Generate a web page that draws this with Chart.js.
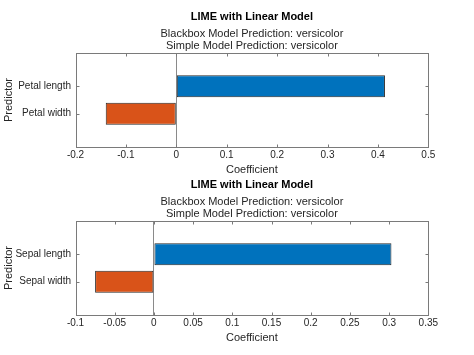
<!DOCTYPE html>
<html><head><meta charset="utf-8">
<script src="https://cdn.jsdelivr.net/npm/chart.js@4"></script>
<style>
html,body{margin:0;padding:0;background:#fff;width:474px;height:355px;overflow:hidden;}
.wrap{position:absolute;left:0;width:474px;height:180px;}
#w1{top:0;}
#w2{top:168px;}
</style></head><body>
<div class="wrap" id="w1"><canvas id="c1" width="474" height="180"></canvas></div>
<div class="wrap" id="w2"><canvas id="c2" width="474" height="180"></canvas></div>
<script>
// ---- data ----
const titleText = 'LIME with Linear Model';
const subtitleLines = ['Blackbox Model Prediction: versicolor', 'Simple Model Prediction: versicolor'];
const topPredictors = ['Petal length', 'Petal width'];
const topCoefficients = [0.414, -0.14];
const bottomPredictors = ['Sepal length', 'Sepal width'];
const bottomCoefficients = [0.303, -0.075];
const predictorPositions = [1, 2];
const topXTicks = [-0.2, -0.1, 0, 0.1, 0.2, 0.3, 0.4, 0.5];
const bottomXTicks = [-0.1, -0.05, 0, 0.05, 0.1, 0.15, 0.2, 0.25, 0.3, 0.35];

const FONT = "'Liberation Sans', Arial, Helvetica, sans-serif";
const TXT = '#262626';
const barColors = ['#0072BD', '#D95319'];

const framePlugin = {
  id: 'frame',
  afterDatasetsDraw(chart) {
    const ctx = chart.ctx, a = chart.chartArea;
    const L = Math.round(a.left) + 0.5, R = Math.round(a.right) + 0.5;
    const T = Math.round(a.top) + 0.5, B = Math.round(a.bottom) + 0.5;
    ctx.save();
    ctx.strokeStyle = '#7a7a7a';
    ctx.lineWidth = 1;
    ctx.strokeRect(L, T, R - L, B - T);
    const tl = 3;
    ctx.beginPath();
    chart.scales.x.ticks.forEach(t => {
      const px = Math.round(chart.scales.x.getPixelForValue(t.value)) + 0.5;
      ctx.moveTo(px, B); ctx.lineTo(px, B - tl);
      ctx.moveTo(px, T); ctx.lineTo(px, T + tl);
    });
    chart.scales.y.ticks.forEach(t => {
      const py = Math.round(chart.scales.y.getPixelForValue(t.value)) + 0.5;
      ctx.moveTo(L, py); ctx.lineTo(L + tl, py);
      ctx.moveTo(R, py); ctx.lineTo(R - tl, py);
    });
    ctx.stroke();
    ctx.restore();
  }
};

function fmt(v) { return String(Math.round(v * 1000) / 1000); }

function makeChart(id, canvasH, names, values, xTicks) {
  const data = values.map((v, i) => ({ x: v, y: predictorPositions[i] }));
  return new Chart(document.getElementById(id), {
    type: 'bar',
    data: {
      datasets: [{
        data: data,
        backgroundColor: barColors,
        borderColor: '#2a2a2a',
        borderWidth: 1,
        borderSkipped: false,
        barPercentage: 0.8,
        categoryPercentage: 1.0
      }]
    },
    options: {
      indexAxis: 'y',
      responsive: false,
      animation: false,
      devicePixelRatio: 1,
      layout: { padding: { left: 0, right: 45.7, top: 0, bottom: 0 } },
      plugins: {
        legend: { display: false },
        tooltip: { enabled: false },
        title: {
          display: true, text: titleText, color: '#000', fullSize: false,
          font: { family: FONT, size: 11, weight: 'bold', lineHeight: 1.2 },
          padding: { top: 10.4, bottom: 4.4 }
        },
        subtitle: {
          display: true, text: subtitleLines, color: TXT, fullSize: false,
          font: { family: FONT, size: 11, lineHeight: 1.09 },
          padding: { top: 0, bottom: 1.3 }
        }
      },
      scales: {
        x: {
          type: 'linear',
          min: xTicks[0], max: xTicks[xTicks.length - 1],
          afterBuildTicks: s => { s.ticks = xTicks.map(v => ({ value: v })); },
          afterFit: s => { s.height = canvasH - 146.7; },
          ticks: { color: TXT, font: { family: FONT, size: 10 }, padding: 3, maxRotation: 0, autoSkip: false, callback: v => fmt(v) },
          grid: {
            drawTicks: false,
            color: c => (c.tick && Math.abs(c.tick.value) < 1e-9) ? '#8a8a8a' : 'rgba(0,0,0,0)',
            lineWidth: 1
          },
          border: { display: false },
          title: { display: true, text: 'Coefficient', color: TXT, font: { family: FONT, size: 11, lineHeight: 1.2 }, padding: { top: 0, bottom: 3.4 } }
        },
        y: {
          type: 'linear',
          reverse: true,
          offset: false,
          min: -0.2, max: 3.2,
          afterBuildTicks: s => { s.ticks = predictorPositions.map(v => ({ value: v })); },
          afterFit: s => { s.width = 75.5; },
          ticks: { color: TXT, font: { family: FONT, size: 10 }, padding: 4.5, autoSkip: false,
            callback: (v) => { const i = predictorPositions.indexOf(v); return i >= 0 ? names[i] : ''; } },
          grid: { display: false, drawTicks: false, offset: false },
          border: { display: false },
          title: { display: true, text: 'Predictor', color: TXT, font: { family: FONT, size: 11, lineHeight: 1.2 }, padding: { top: 2.5, bottom: 0 } }
        }
      }
    },
    plugins: [framePlugin]
  });
}

makeChart('c1', 180, topPredictors, topCoefficients, topXTicks);
makeChart('c2', 180, bottomPredictors, bottomCoefficients, bottomXTicks);
</script>
</body></html>
